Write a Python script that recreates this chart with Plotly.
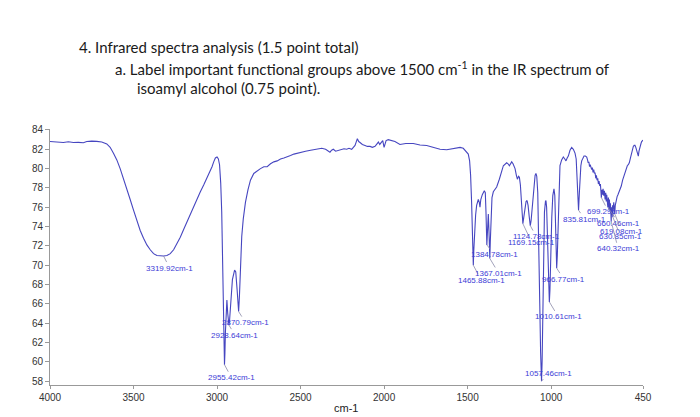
import numpy as np
import plotly.graph_objects as go

# ---- spectrum (wavenumber cm-1, %T) ----
wavenumber = [4000, 3960, 3920, 3890, 3860, 3830, 3800, 3780, 3750, 3720, 3690, 3660, 3640, 3620, 3600,
              3580, 3560, 3540, 3520, 3500, 3480, 3460, 3440, 3420, 3400, 3380, 3360, 3340, 3319.92, 3300,
              3280, 3260, 3240, 3220, 3200, 3180, 3160, 3140, 3120, 3100, 3080, 3060, 3040, 3030, 3020,
              3010, 3000, 2992, 2985, 2978, 2972, 2968, 2964, 2960, 2957, 2955.42, 2953, 2950, 2946, 2941,
              2936, 2931, 2928.64, 2925, 2918, 2908, 2895, 2888, 2880, 2874, 2870.79, 2866, 2860, 2852, 2843,
              2830, 2815, 2800, 2780, 2760, 2740, 2720, 2700, 2680, 2660, 2640, 2620, 2600, 2580, 2560,
              2540, 2503, 2470, 2440, 2400, 2373, 2350, 2335, 2324, 2314, 2304, 2290, 2274, 2260, 2240,
              2224, 2210, 2194, 2180, 2174, 2160, 2152, 2144, 2130, 2114, 2100, 2084, 2070, 2054, 2040,
              2034, 2026, 2014, 2008, 2000, 1994, 1988, 1975, 1965, 1955, 1935, 1905, 1870, 1825, 1785,
              1745, 1700, 1665, 1625, 1595, 1565, 1545, 1526, 1510, 1496, 1488, 1482, 1476, 1470, 1467,
              1465.88, 1463, 1458, 1452, 1446, 1436, 1430, 1426, 1421, 1412, 1400, 1394, 1390, 1387, 1384.78,
              1381, 1376, 1372, 1369, 1367.01, 1364, 1360, 1354, 1346, 1336, 1326, 1310, 1296, 1286, 1266,
              1258, 1250, 1243, 1236, 1228, 1216, 1208, 1202, 1195, 1190, 1184, 1178, 1173, 1169.15, 1165,
              1158, 1150, 1144, 1138, 1131, 1127, 1124.78, 1120, 1112, 1104, 1096, 1091, 1086, 1080, 1074,
              1068, 1063, 1060, 1057.46, 1054, 1050, 1046, 1040, 1034, 1031, 1027, 1022, 1017, 1013, 1010.61,
              1007, 1002, 996, 990, 983, 978, 974, 970, 966.77, 963, 958, 952, 947, 937, 927,
              918, 911, 904, 897, 887, 877, 867, 857, 850, 845, 840, 835.81, 831, 827, 822,
              817, 810, 803, 795,
              787, 782, 778, 774, 770, 766, 762, 757, 753, 749, 745, 741, 737, 733, 729,
              725, 721, 717, 713, 709, 705, 702, 699.29, 696, 692, 689, 685, 681, 677, 673,
              670, 667, 664, 660.46, 657, 654, 651, 648, 645, 642, 640.32, 638, 635, 632, 630.85,
              628, 625, 622, 619.08, 616, 613, 609, 605, 600, 596, 588, 580,
              572, 565, 558, 551, 544, 538, 532, 525, 518, 512, 508,
              503, 498, 493, 488, 483, 478, 474, 468, 462, 458, 452, 450]
transmittance = [82.80, 82.75, 82.70, 82.78, 82.70, 82.72, 82.68, 82.80, 82.85, 82.82, 82.75, 82.55, 82.2, 81.6, 80.9,
                 80.0, 79.0, 77.9, 76.8, 75.7, 74.6, 73.6, 72.8, 72.1, 71.6, 71.2, 71.0, 70.95, 70.95, 71.0,
                 71.2, 71.6, 72.2, 72.9, 73.7, 74.5, 75.3, 76.1, 76.9, 77.6, 78.3, 79.0, 79.7, 80.2, 80.7,
                 81.1, 81.2, 81.0, 80.4, 78.5, 75.5, 72.0, 67.5, 63.0, 60.5, 59.7, 60.8, 63.0, 65.5, 66.4,
                 65.0, 64.0, 63.8, 64.3, 66.5, 68.5, 69.5, 69.3, 67.5, 65.8, 65.2, 66.8, 70.0, 73.0, 74.8,
                 76.5, 77.8, 78.8, 79.5, 79.8, 80.0, 80.2, 80.2, 80.5, 80.7, 80.8, 81.0, 81.1, 81.2, 81.35,
                 81.5, 81.7, 81.8, 81.9, 82.0, 82.1, 82.0, 81.85, 81.7, 81.9, 82.0, 81.8, 81.9, 82.0, 82.05,
                 82.0, 82.1, 82.0, 82.3, 82.4, 83.1, 82.8, 82.7, 82.5, 82.4, 82.3, 82.3, 82.2, 82.3, 82.6,
                 82.75, 82.5, 82.7, 82.9, 82.2, 82.6, 82.9, 83.0, 82.95, 82.85, 82.8, 82.5, 82.6, 82.6, 82.45,
                 82.4, 82.2, 82.0, 81.95, 82.05, 82.2, 82.2, 82.1, 81.8, 81.5, 80.8, 79.3, 76.5, 73.8, 71.0,
                 70.0, 71.5, 73.5, 75.2, 76.2, 76.8, 76.5, 76.0, 76.8, 77.3, 77.7, 77.5, 75.5, 73.0, 72.1,
                 73.5, 75.3, 73.5, 71.2, 70.7, 72.5, 75.0, 77.0, 77.6, 77.8, 78.1, 78.9, 79.8, 80.3, 80.6,
                 80.5, 80.3, 80.6, 80.7, 80.5, 80.0, 79.3, 78.9, 79.2, 79.1, 78.3, 76.5, 75.0, 74.3, 74.8,
                 75.8, 76.6, 76.7, 76.2, 75.0, 74.3, 74.1, 74.6, 76.5, 78.3, 79.3, 79.5, 79.2, 77.5, 73.0,
                 66.0, 61.0, 58.8, 58.0, 60.0, 66.0, 72.0, 75.5, 76.6, 76.7, 76.0, 73.0, 69.5, 67.0, 66.2,
                 67.5, 71.5, 75.0, 77.2, 77.9, 77.2, 74.5, 71.0, 69.7, 71.0, 75.0, 78.5, 80.3, 80.9, 81.2,
                 81.0, 80.8, 81.1, 81.3, 81.9, 82.2, 82.0, 81.6, 81.0, 79.3, 77.0, 75.7, 77.5, 79.3, 80.3,
                 80.8, 81.1, 81.3, 81.3,
                 81.2, 80.9, 80.6, 80.7, 80.2, 80.4, 80.0, 79.9, 80.1, 79.6, 79.9, 79.5, 79.6, 79.0, 79.3,
                 78.8, 79.0, 78.4, 78.7, 78.2, 78.4, 77.8, 77.0, 77.8, 77.3, 77.9, 77.2, 77.7, 76.8, 77.5,
                 76.6, 77.3, 76.5, 76.0, 77.0, 75.8, 76.8, 75.6, 76.4, 75.0, 74.5, 76.0, 75.2, 76.2, 75.0,
                 76.0, 76.5, 75.6, 75.3, 76.2, 76.6, 76.9, 77.1, 77.3, 77.5, 77.7, 78.2,
                 78.8, 79.2, 79.6, 80.0, 80.3, 80.4, 80.6, 81.1, 81.7, 82.1, 82.3,
                 82.4, 82.4, 82.2, 81.95, 81.6, 81.3, 81.8, 82.4, 82.6, 82.8, 82.9, 82.95]
assert len(wavenumber) == len(transmittance)

# ---- labelled peaks ----
peak_wn = [3319.92, 2955.42, 2928.64, 2870.79, 1465.88, 1384.78, 1367.01, 1169.15, 1124.78,
           1057.46, 1010.61, 966.77, 835.81, 699.29, 660.46, 619.08, 630.85, 640.32]
# label offsets (px) from the peak point
peak_dx = [6, 7, 6, 7, 8, 8, 9, 9, 6, 7, 9, 7, 6, 7, 11, 7, 8, 7]
peak_dy = [12, 13, 10, 11, 15, 10, 15, 19, 11, -8, 15, 11, 9, 14, 16, 17, 20, 27]

x_tickvals = [4000, 3500, 3000, 2500, 2000, 1500, 1000, 450]
y_tickvals = list(range(58, 85, 2))

header_lines = ["4. Infrared spectra analysis (1.5 point total)",
                "a. Label important functional groups above 1500 cm<sup>-1</sup> in the IR spectrum of",
                "isoamyl alcohol (0.75 point)."]

fig = go.Figure()
fig.add_trace(go.Scatter(x=wavenumber, y=transmittance, mode="lines",
                         line=dict(color="#4646c0", width=1.1), hoverinfo="skip"))

wn_inc = np.array(wavenumber[::-1])
t_inc = np.array(transmittance[::-1])
for wn, dx, dy in zip(peak_wn, peak_dx, peak_dy):
    fig.add_annotation(x=wn, y=float(np.interp(wn, wn_inc, t_inc)), xref="x", yref="y",
                       text=f"{wn:.2f}cm-1", showarrow=True, arrowhead=0, arrowwidth=0.8,
                       arrowcolor="#8a8aa8", standoff=0, ax=dx, ay=dy,
                       font=dict(family="Arial", size=8, color="#3b3bd6"))

# header text (pixel positions converted to paper coordinates)
L, T, W, H = 50, 129, 593, 256
def px(x):
    return (x - L) / W
def py(y):
    return (T + H - y) / H
header_x = [77, 113, 135]
header_y = [47, 68, 88]
for txt, hx, hy in zip(header_lines, header_x, header_y):
    fig.add_annotation(x=px(hx), y=py(hy), xref="paper", yref="paper", xanchor="left", yanchor="middle",
                       text=txt, showarrow=False, font=dict(family="Lato", size=15, color="#1a1a1a"))

fig.add_annotation(x=px(346), y=py(408), xref="paper", yref="paper", xanchor="center", yanchor="middle",
                   text="cm-1", showarrow=False, font=dict(family="Arial", size=11, color="#222"))

fig.update_layout(
    width=700, height=417, margin=dict(l=L, r=700 - L - W, t=T, b=417 - T - H),
    paper_bgcolor="white", plot_bgcolor="white", showlegend=False,
    font=dict(family="Arial", size=10, color="#333"),
    xaxis=dict(range=[4000, 450], tickvals=x_tickvals, ticktext=[str(v) for v in x_tickvals],
               showline=True, linecolor="#999", linewidth=1, ticks="outside", ticklen=3,
               tickcolor="#999", showgrid=False, zeroline=False, tickfont=dict(size=10, color="#333")),
    yaxis=dict(range=[57.6, 84.1], tickvals=y_tickvals, showline=True, linecolor="#999", linewidth=1,
               ticks="outside", ticklen=4, tickcolor="#999", showgrid=False, zeroline=False,
               tickfont=dict(size=10, color="#333")),
)

fig.write_html("out.html")
